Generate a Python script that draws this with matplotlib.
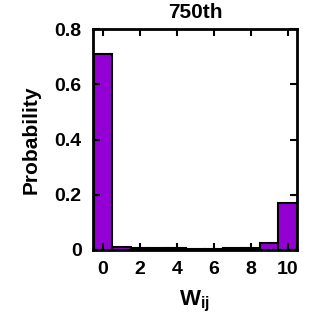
import matplotlib
matplotlib.use("Agg")
import matplotlib.pyplot as plt

# histogram of weights W_ij at the 750th step
weights = [0, 1, 2, 3, 4, 5, 6, 7, 8, 9, 10]
probability = [0.71, 0.012, 0.007, 0.006, 0.006, 0.004, 0.005, 0.006, 0.007, 0.025, 0.17]
xticks = [0, 2, 4, 6, 8, 10]
yticks = [0, 0.2, 0.4, 0.6, 0.8]
ytick_labels = ["0", "0.2", "0.4", "0.6", "0.8"]

plt.rcParams['font.family'] = ['Liberation Sans', 'DejaVu Sans']
plt.rcParams['font.weight'] = 'bold'
plt.rcParams['mathtext.fontset'] = 'custom'
plt.rcParams['mathtext.bf'] = 'Liberation Sans:bold'
plt.rcParams['mathtext.rm'] = 'Liberation Sans:bold'

fig = plt.figure(figsize=(3.2, 3.2), dpi=100)
ax = fig.add_axes([0.29, 0.219, 0.638, 0.69])

ax.bar(weights, probability, width=1.0, color='#9400D3', edgecolor='black', linewidth=1.5)

ax.set_xlim(-0.55, 10.5)
ax.set_ylim(0, 0.8)
ax.set_xticks(xticks)
ax.set_yticks(yticks)
ax.set_yticklabels(ytick_labels)
ax.tick_params(direction='in', top=True, right=True, length=5, width=1.5,
               labelsize=14, pad=8)
for lab in ax.get_xticklabels() + ax.get_yticklabels():
    lab.set_fontweight('bold')
for s in ax.spines.values():
    s.set_linewidth(2)

ax.set_title('750th', fontsize=15, fontweight='bold', pad=8)
ax.set_xlabel(r'$\mathbf{W_{ij}}$', fontsize=16, labelpad=8)
ax.set_ylabel('Probability', fontsize=15, fontweight='bold', labelpad=10)

fig.savefig('out.png', dpi=100)
